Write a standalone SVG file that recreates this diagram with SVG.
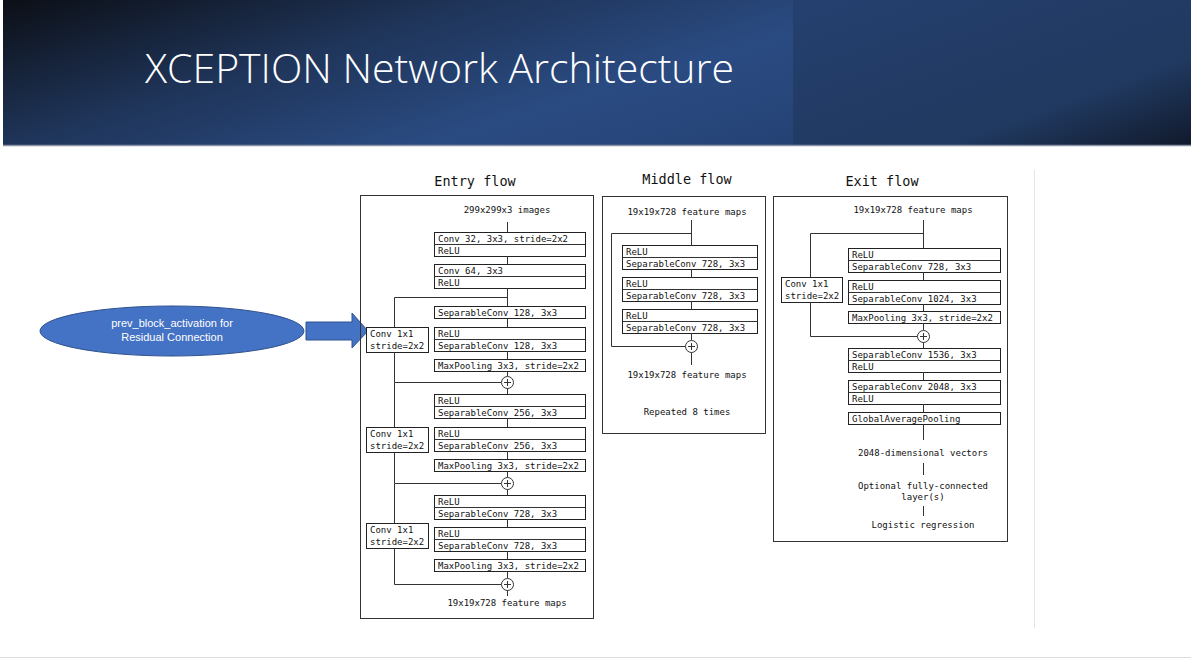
<svg xmlns="http://www.w3.org/2000/svg" width="1191" height="661" viewBox="0 0 1191 661">
<defs>
<linearGradient id="hg" x1="0" y1="0" x2="1" y2="0.4">
<stop offset="0" stop-color="#0c0f16"/><stop offset="0.35" stop-color="#1f355a"/><stop offset="0.65" stop-color="#2a4b82"/><stop offset="1" stop-color="#233f70"/>
</linearGradient>
<linearGradient id="rg" x1="0" y1="0" x2="1" y2="1">
<stop offset="0" stop-color="#25406f"/><stop offset="0.7" stop-color="#203960"/><stop offset="1" stop-color="#111a2c"/>
</linearGradient>
<style>
.b{fill:#fff;stroke:#222;stroke-width:1}
.f{fill:none;stroke:#333;stroke-width:1}
.t{font-family:"DejaVu Sans Mono",monospace;font-size:9px;fill:#111}
.c{text-anchor:middle}
.h{font-family:"DejaVu Sans Mono",monospace;font-size:13.5px;fill:#111;text-anchor:middle}
.l{fill:none;stroke:#333;stroke-width:1}
</style>
</defs>
<rect width="1191" height="661" fill="#fff"/>
<rect x="3" y="0" width="1188" height="145" fill="url(#hg)"/>
<rect x="793" y="0" width="398" height="145" fill="url(#rg)"/>
<line x1="3" y1="145.5" x2="1191" y2="145.5" stroke="#8a93a6" stroke-width="1.5"/>
<text x="145" y="83" font-family="Open Sans, sans-serif" font-weight="300" font-size="41" fill="#fff">XCEPTION Network Architecture</text>
<line x1="1034.5" y1="170" x2="1034.5" y2="628" stroke="#e4e4e4"/>
<line x1="0" y1="657.5" x2="1191" y2="657.5" stroke="#ddd"/>

<g id="callout">
<ellipse cx="172" cy="331" rx="132" ry="25" fill="#4472C4" stroke="#2F528F"/>
<text x="172" y="327" font-family="Liberation Sans, sans-serif" font-size="11" fill="#fff" text-anchor="middle">prev_block_activation for</text>
<text x="172" y="341" font-family="Liberation Sans, sans-serif" font-size="11" fill="#fff" text-anchor="middle">Residual Connection</text>
<polygon points="306,322 352,322 352,313 368,331 352,348 352,340 306,340" fill="#4472C4" stroke="#2F528F"/>
</g>

<g id="entry">
<text class="h" x="475" y="186">Entry flow</text>
<rect class="f" x="360.5" y="195.5" width="233" height="423"/>
<text class="t c" x="507" y="213">299x299x3 images</text>
<g class="b">
<rect x="434.5" y="232.5" width="151" height="24"/><rect x="434.5" y="264.5" width="151" height="24"/>
<rect x="434.5" y="306.5" width="151" height="12"/><rect x="434.5" y="327.5" width="151" height="24"/><rect x="434.5" y="359.5" width="151" height="12"/>
<rect x="434.5" y="394.5" width="151" height="24"/><rect x="434.5" y="427.5" width="151" height="24"/><rect x="434.5" y="459.5" width="151" height="12"/>
<rect x="434.5" y="495.5" width="151" height="24"/><rect x="434.5" y="527.5" width="151" height="24"/><rect x="434.5" y="559.5" width="151" height="12"/>
<rect x="366.5" y="327.5" width="62" height="25"/><rect x="366.5" y="427.5" width="62" height="25"/><rect x="366.5" y="523.5" width="62" height="25"/>
</g>
<g class="l">
<line x1="434.5" y1="244.5" x2="585.5" y2="244.5"/><line x1="434.5" y1="276.5" x2="585.5" y2="276.5"/>
<line x1="434.5" y1="339.5" x2="585.5" y2="339.5"/><line x1="434.5" y1="406.5" x2="585.5" y2="406.5"/>
<line x1="434.5" y1="439.5" x2="585.5" y2="439.5"/><line x1="434.5" y1="507.5" x2="585.5" y2="507.5"/><line x1="434.5" y1="539.5" x2="585.5" y2="539.5"/>
</g>
<g class="t">
<text x="438" y="242">Conv 32, 3x3, stride=2x2</text><text x="438" y="254">ReLU</text>
<text x="438" y="274">Conv 64, 3x3</text><text x="438" y="286">ReLU</text>
<text x="438" y="316">SeparableConv 128, 3x3</text>
<text x="438" y="337">ReLU</text><text x="438" y="349">SeparableConv 128, 3x3</text>
<text x="438" y="369">MaxPooling 3x3, stride=2x2</text>
<text x="438" y="404">ReLU</text><text x="438" y="416">SeparableConv 256, 3x3</text>
<text x="438" y="437">ReLU</text><text x="438" y="449">SeparableConv 256, 3x3</text>
<text x="438" y="469">MaxPooling 3x3, stride=2x2</text>
<text x="438" y="505">ReLU</text><text x="438" y="517">SeparableConv 728, 3x3</text>
<text x="438" y="537">ReLU</text><text x="438" y="549">SeparableConv 728, 3x3</text>
<text x="438" y="569">MaxPooling 3x3, stride=2x2</text>
<text x="370" y="337">Conv 1x1</text><text x="370" y="349">stride=2x2</text>
<text x="370" y="437">Conv 1x1</text><text x="370" y="449">stride=2x2</text>
<text x="370" y="533">Conv 1x1</text><text x="370" y="545">stride=2x2</text>
</g>
<text class="t c" x="507" y="606">19x19x728 feature maps</text>
</g>

<g id="middle">
<text class="h" x="687" y="184">Middle flow</text>
<rect class="f" x="602.5" y="196.5" width="163" height="237"/>
<text class="t c" x="687" y="215">19x19x728 feature maps</text>
<g class="b">
<rect x="622.5" y="245.5" width="135" height="24"/><rect x="622.5" y="277.5" width="135" height="24"/><rect x="622.5" y="309.5" width="135" height="24"/>
</g>
<g class="l"><line x1="622.5" y1="257.5" x2="757.5" y2="257.5"/><line x1="622.5" y1="289.5" x2="757.5" y2="289.5"/><line x1="622.5" y1="321.5" x2="757.5" y2="321.5"/></g>
<g class="t">
<text x="626" y="255">ReLU</text><text x="626" y="267">SeparableConv 728, 3x3</text>
<text x="626" y="287">ReLU</text><text x="626" y="299">SeparableConv 728, 3x3</text>
<text x="626" y="319">ReLU</text><text x="626" y="331">SeparableConv 728, 3x3</text>
</g>
<text class="t c" x="687" y="378">19x19x728 feature maps</text>
<text class="t c" x="687" y="415">Repeated 8 times</text>
</g>

<g id="exit">
<text class="h" x="882" y="186">Exit flow</text>
<rect class="f" x="773.5" y="196.5" width="234" height="345"/>
<text class="t c" x="913" y="213">19x19x728 feature maps</text>
<g class="b">
<rect x="848.5" y="248.5" width="152" height="24"/><rect x="848.5" y="280.5" width="152" height="24"/><rect x="848.5" y="311.5" width="152" height="12"/>
<rect x="848.5" y="348.5" width="152" height="24"/><rect x="848.5" y="380.5" width="152" height="24"/><rect x="848.5" y="412.5" width="152" height="12"/>
<rect x="781.5" y="277.5" width="61" height="25"/>
</g>
<g class="l">
<line x1="848.5" y1="260.5" x2="1000.5" y2="260.5"/><line x1="848.5" y1="292.5" x2="1000.5" y2="292.5"/>
<line x1="848.5" y1="360.5" x2="1000.5" y2="360.5"/><line x1="848.5" y1="392.5" x2="1000.5" y2="392.5"/>
</g>
<g class="t">
<text x="852" y="258">ReLU</text><text x="852" y="270">SeparableConv 728, 3x3</text>
<text x="852" y="290">ReLU</text><text x="852" y="302">SeparableConv 1024, 3x3</text>
<text x="852" y="321">MaxPooling 3x3, stride=2x2</text>
<text x="852" y="358">SeparableConv 1536, 3x3</text><text x="852" y="370">ReLU</text>
<text x="852" y="390">SeparableConv 2048, 3x3</text><text x="852" y="402">ReLU</text>
<text x="852" y="422">GlobalAveragePooling</text>
<text x="785" y="287">Conv 1x1</text><text x="785" y="299">stride=2x2</text>
</g>
<text class="t c" x="923" y="456">2048-dimensional vectors</text>
<text class="t c" x="923" y="489">Optional fully-connected</text>
<text class="t c" x="923" y="500">layer(s)</text>
<text class="t c" x="923" y="528">Logistic regression</text>
</g>

<g id="connectors" class="l">
<path d="M507.5 222V232M507.5 256V264M507.5 288V306M507.5 318V327M507.5 351V359M507.5 371V376M507.5 388V394M507.5 418V427M507.5 451V459M507.5 471V477M507.5 489V495M507.5 519V527M507.5 551V559M507.5 571V578M507.5 590V596"/>
<path d="M507.5 297.5H394.5V327M394.5 352V382.5H501"/>
<path d="M394.5 382.5V427M394.5 452V483.5H501"/>
<path d="M394.5 483.5V523M394.5 548V584.5H501"/>
<circle cx="507.5" cy="382.5" r="6" fill="#fff"/><path d="M504 382.5H511M507.5 379V386"/>
<circle cx="507.5" cy="483.5" r="6" fill="#fff"/><path d="M504 483.5H511M507.5 480V487"/>
<circle cx="507.5" cy="584.5" r="6" fill="#fff"/><path d="M504 584.5H511M507.5 581V588"/>
<path d="M691.5 220V245M691.5 269V277M691.5 301V309M691.5 333V340M691.5 352V365"/>
<path d="M691.5 233.5H611.5V346.5H685.5"/>
<circle cx="691.5" cy="346.5" r="6" fill="#fff"/><path d="M688 346.5H695M691.5 343V350"/>
<path d="M923.5 220V248M923.5 272V280M923.5 304V311M923.5 323V330M923.5 342V348M923.5 372V380M923.5 404V412M923.5 424V440M923.5 463V475M923.5 506V516"/>
<path d="M923.5 233.5H810.5V277M810.5 302V336.5H917.5"/>
<circle cx="923.5" cy="336.5" r="6" fill="#fff"/><path d="M920 336.5H927M923.5 333V340"/>
</g>
</svg>
